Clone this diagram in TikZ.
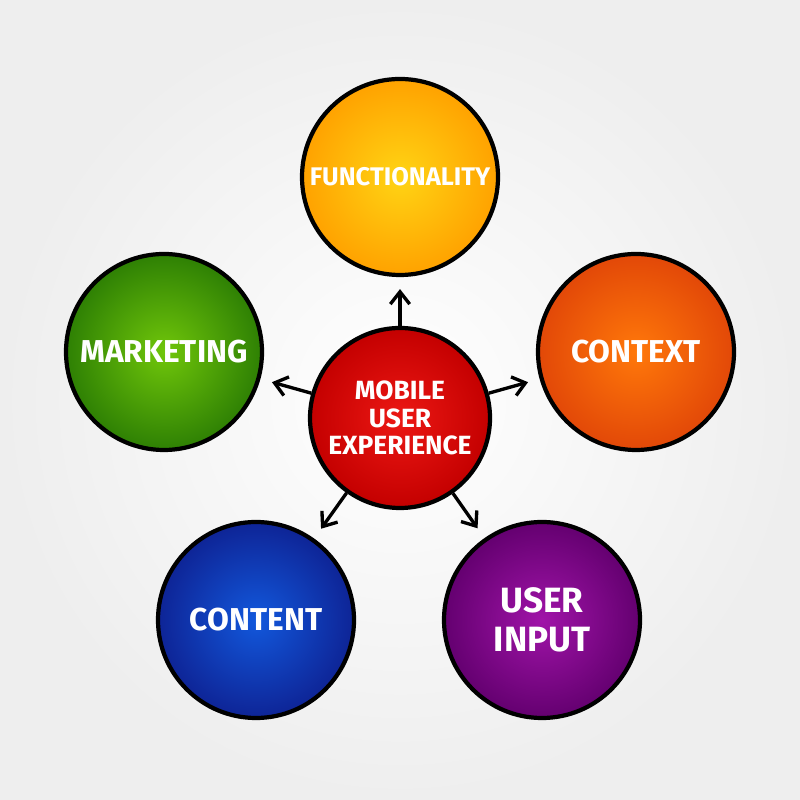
\documentclass[tikz,border=0pt]{standalone}
\usepackage{fontspec}
\setmainfont{Fira Sans}
\usetikzlibrary{arrows.meta,shadings}

\definecolor{bgedge}{RGB}{238,238,238}

\tikzset{
  bubble/.style={circle, draw=black, line width=2.4pt, minimum size=3.92cm,
    align=center, text=white, font=\bfseries\fontsize{18}{21}\selectfont},
  hub/.style={bubble, minimum size=3.6cm, font=\bfseries\fontsize{15}{15.5}\selectfont,
    inner color={rgb,255:red,236;green,24;blue,20}, outer color={rgb,255:red,196;green,0;blue,0}},
  spoke/.style={-{Straight Barb[length=7pt,width=11pt]}, line width=1.9pt,
    shorten >=0.24cm}
}

\begin{document}
\begin{tikzpicture}
  \shade[inner color=white, outer color=bgedge] (0,0) rectangle (16,16);
  \useasboundingbox (0,0) rectangle (16,16);

  \node[hub] (ux) at (8,7.64) {MOBILE\\USER\\EXPERIENCE};
  \node[bubble, font=\bfseries\fontsize{14.5}{17}\selectfont,
    inner color={rgb,255:red,255;green,212;blue,20}, outer color={rgb,255:red,255;green,162;blue,0}]
    (func) at (8,12.46) {FUNCTIONALITY};
  \node[bubble, inner color={rgb,255:red,255;green,120;blue,10}, outer color={rgb,255:red,226;green,72;blue,8}]
    (ctx) at (12.72,8.96) {CONTEXT};
  \node[bubble, inner color={rgb,255:red,112;green,198;blue,10}, outer color={rgb,255:red,46;green,128;blue,4}]
    (mkt) at (3.28,8.96) {MARKETING};
  \node[bubble, inner color={rgb,255:red,18;green,88;blue,220}, outer color={rgb,255:red,14;green,36;blue,150}]
    (cnt) at (5.12,3.6) {CONTENT};
  \node[bubble, font=\bfseries\fontsize{20}{22}\selectfont,
    inner color={rgb,255:red,160;green,20;blue,168}, outer color={rgb,255:red,100;green,0;blue,112}]
    (inp) at (10.84,3.6) {USER\\INPUT};

  \begin{scope}[spoke]
    \draw (ux) to (func);
    \draw (ux) to (ctx);
    \draw (ux) to (mkt);
    \draw (ux) to (cnt);
    \draw (ux) to (inp);
  \end{scope}
\end{tikzpicture}
\end{document}
